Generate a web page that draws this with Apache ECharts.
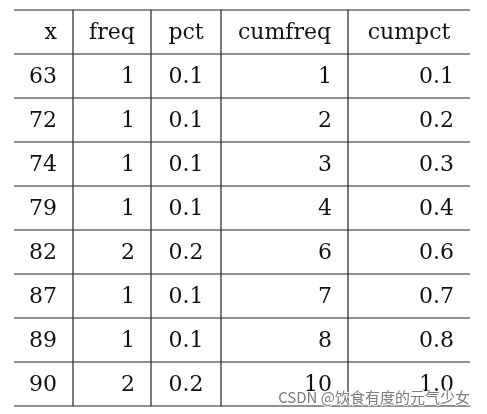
<!DOCTYPE html>
<html><head><meta charset="utf-8">
<script src="https://cdn.jsdelivr.net/npm/echarts@6/dist/echarts.min.js"></script>
<style>html,body{margin:0;background:#fff}#c{width:487px;height:414px}</style>
</head><body><div id="c"></div>
<script>
const headers = ['x', 'freq', 'pct', 'cumfreq', 'cumpct'];
const xs = [63, 72, 74, 79, 82, 87, 89, 90];
const freq = [1, 1, 1, 1, 2, 1, 1, 2];
const pct = ['0.1', '0.1', '0.1', '0.1', '0.2', '0.1', '0.1', '0.2'];
const cumfreq = [1, 2, 3, 4, 6, 7, 8, 10];
const cumpct = ['0.1', '0.2', '0.3', '0.4', '0.6', '0.7', '0.8', '1.0'];

// layout (pixels)
const colEdges = [14, 73, 151, 221, 348, 470];
const rowTop = 10, rowH = 44;
const bodyAlign = ['right', 'right', 'center', 'right', 'right'];
const headAlign = ['right', 'center', 'center', 'center', 'center'];

const columns = [xs, freq, pct, cumfreq, cumpct];
const cells = [];
headers.forEach((h, c) => cells.push([c, 0, h]));
xs.forEach((_, r) => columns.forEach((col, c) => cells.push([c, r + 1, String(col[r])])));
const nRows = xs.length + 1;

function textX(c, align) {
  if (align === 'right') return colEdges[c + 1] - 16;
  return (colEdges[c] + colEdges[c + 1]) / 2;
}

const chart = echarts.init(document.getElementById('c'));
chart.setOption({
  animation: false,
  grid: { left: 0, right: 0, top: 0, bottom: 0 },
  xAxis: { type: 'value', min: 0, max: 487, show: false },
  yAxis: { type: 'value', min: 0, max: 414, inverse: true, show: false },
  series: [{
    type: 'custom',
    coordinateSystem: 'cartesian2d',
    data: cells,
    renderItem: function (params, api) {
      const c = api.value(0), r = api.value(1);
      const align = r === 0 ? headAlign[c] : bodyAlign[c];
      const p = api.coord([textX(c, align), rowTop + rowH * (r + 0.5)]);
      return {
        type: 'text',
        style: {
          text: cells[params.dataIndex][2], x: p[0], y: p[1] + 1,
          align: align, verticalAlign: 'middle',
          font: '22px "DejaVu Serif", serif', fill: '#111'
        }
      };
    }
  }, {
    type: 'custom',
    coordinateSystem: 'cartesian2d',
    data: [0],
    renderItem: function (params, api) {
      const lines = [];
      const bottom = rowTop + rowH * nRows;
      for (let r = 0; r <= nRows; r++) {
        const y = rowTop + rowH * r;
        const a = api.coord([colEdges[0], y]), b = api.coord([colEdges[5], y]);
        lines.push({ type: 'line', shape: { x1: a[0], y1: a[1], x2: b[0], y2: b[1] }, style: { stroke: '#222', lineWidth: 1.2 } });
      }
      for (let c = 1; c < colEdges.length - 1; c++) {
        const a = api.coord([colEdges[c], rowTop]), b = api.coord([colEdges[c], bottom]);
        lines.push({ type: 'line', shape: { x1: a[0], y1: a[1], x2: b[0], y2: b[1] }, style: { stroke: '#222', lineWidth: 1.2 } });
      }
      return { type: 'group', children: lines };
    }
  }],
  graphic: [{
    type: 'text', right: 16, bottom: 8, z: 100,
    style: { text: 'CSDN @饮食有度的元气少女', font: '15px "Noto Sans CJK SC", sans-serif', fill: 'rgba(100,100,100,0.85)', stroke: 'rgba(255,255,255,0.9)', lineWidth: 2 }
  }]
});
</script></body></html>
